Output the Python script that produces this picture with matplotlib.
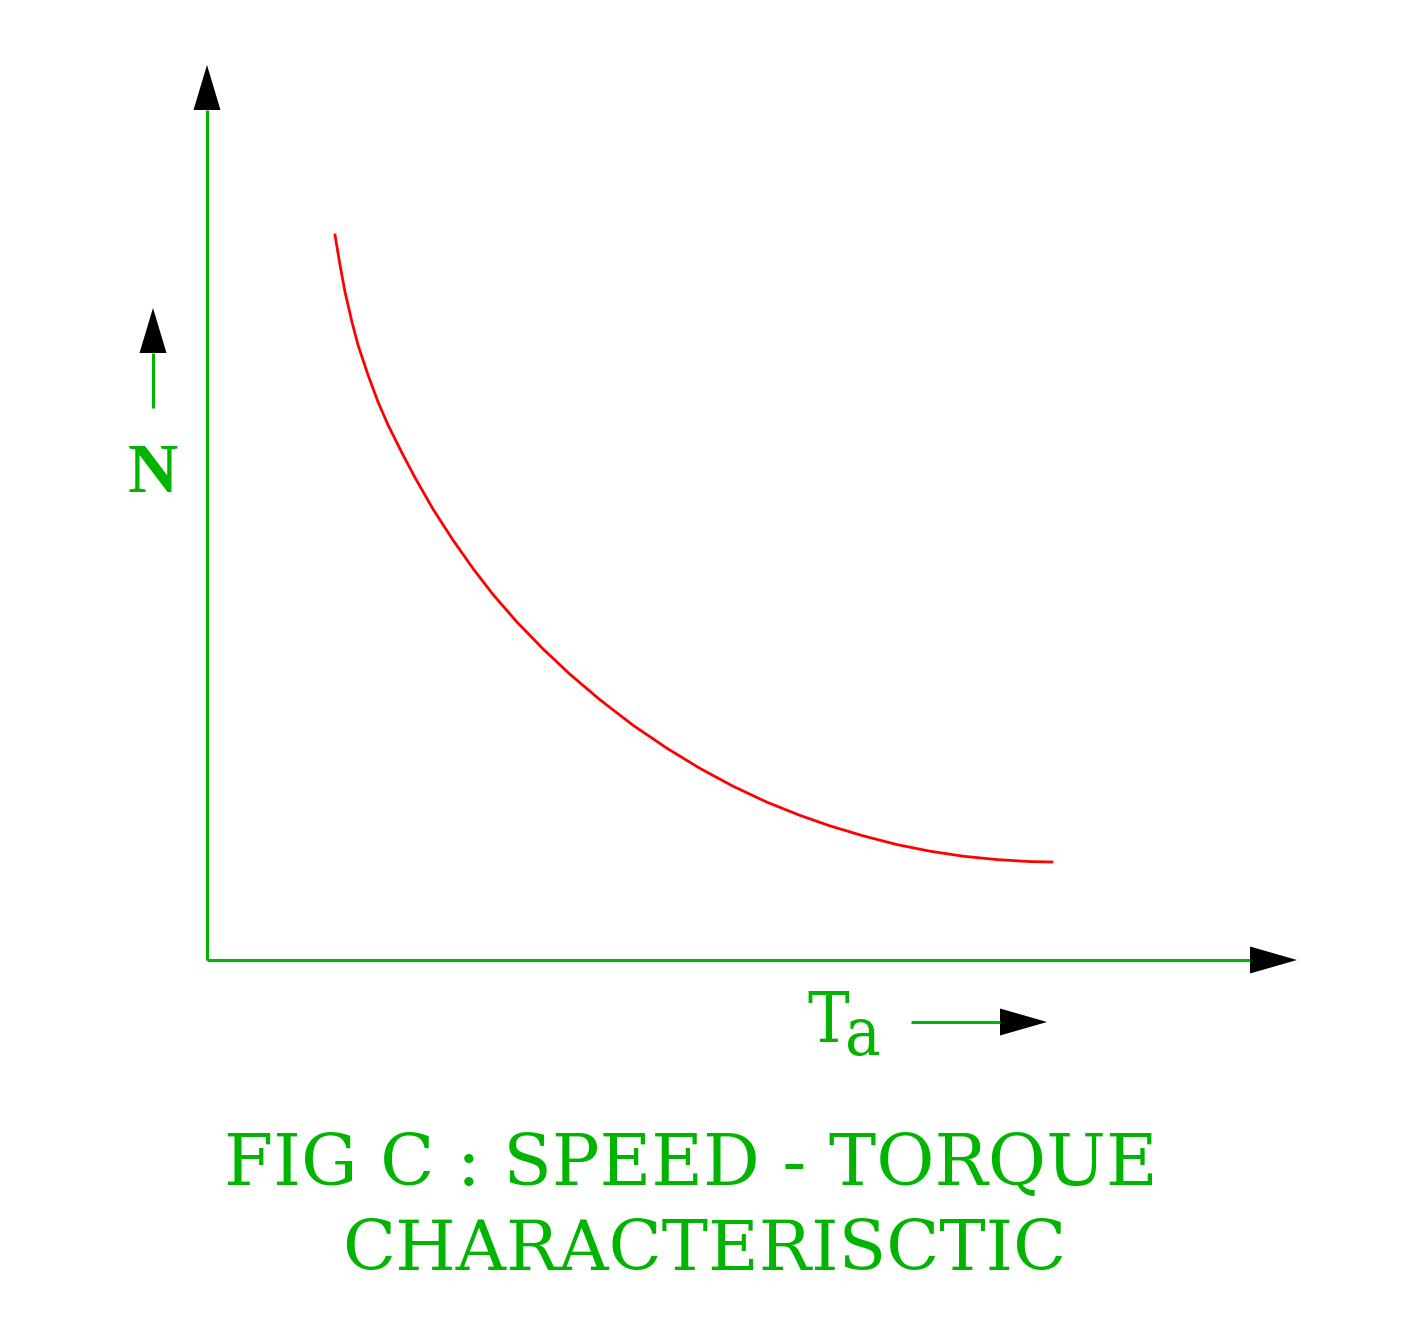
import matplotlib
matplotlib.use("Agg")
import matplotlib.pyplot as plt
import numpy as np

# Speed-torque characteristic (arbitrary units)
torque = [1.28, 1.33, 1.38, 1.45, 1.51, 1.61, 1.71, 1.81, 1.95, 2.08, 2.26, 2.46,
          2.66, 2.86, 3.10, 3.36, 3.63, 3.93, 4.26, 4.60, 4.93, 5.26, 5.60, 5.93,
          6.23, 6.56, 6.90, 7.23, 7.56, 7.90, 8.23, 8.45]
speed = [7.250, 6.950, 6.680, 6.379, 6.151, 5.851, 5.581, 5.351, 5.071, 4.824,
         4.509, 4.199, 3.915, 3.655, 3.379, 3.111, 2.857, 2.602, 2.348, 2.117,
         1.916, 1.738, 1.578, 1.446, 1.341, 1.242, 1.154, 1.088, 1.038, 1.004,
         0.984, 0.980]

title_lines = ["FIG C : SPEED - TORQUE", "CHARACTERISCTIC"]
y_label = "N"
x_label_main = "T"
x_label_sub = "a"

GREEN = "#00b400"
FONT = "DejaVu Serif"

fig = plt.figure(figsize=(14.21, 13.24), dpi=100)
ax = fig.add_axes([0, 0, 1, 1])
ax.set_xlim(-2.07, 12.14)
ax.set_ylim(-3.64, 9.60)
ax.axis("off")

lw = 2.2

def arrow(x0, y0, x1, y1, hl, hw):
    # green shaft, black triangular head
    d = np.array([x1 - x0, y1 - y0], float)
    L = np.hypot(*d)
    u = d / L
    n = np.array([-u[1], u[0]])
    base = np.array([x1, y1]) - u * hl
    ax.plot([x0, base[0]], [y0, base[1]], color=GREEN, lw=lw, solid_capstyle="butt")
    tri = [base + n * hw / 2, base - n * hw / 2, np.array([x1, y1])]
    ax.fill([p[0] for p in tri], [p[1] for p in tri], color="black", lw=0)

# main axes
arrow(0, 0, 0, 8.95, 0.45, 0.27)
arrow(0, 0, 10.90, 0, 0.47, 0.27)

# curve
ax.plot(torque, speed, color="red", lw=2.0, solid_joinstyle="round")

# N label with arrow
arrow(-0.54, 5.52, -0.54, 6.52, 0.45, 0.27)
ax.text(-0.54, 4.68, y_label, color=GREEN, fontsize=50, fontfamily="Liberation Serif",
        fontweight="bold", ha="center", va="baseline")

# T_a label with arrow
ax.text(6.21, -0.82, x_label_main, color=GREEN, fontsize=50, fontfamily=FONT,
        fontstretch="condensed", ha="center", va="baseline")
ax.text(6.56, -0.95, x_label_sub, color=GREEN, fontsize=48, fontfamily=FONT,
        fontstretch="condensed", ha="center", va="baseline")
arrow(7.04, -0.62, 8.40, -0.62, 0.47, 0.27)

# title
ax.text(4.84, -2.25, title_lines[0], color=GREEN, fontsize=51, fontfamily=FONT,
        ha="center", va="baseline")
ax.text(4.97, -3.10, title_lines[1], color=GREEN, fontsize=50, fontfamily=FONT,
        ha="center", va="baseline")

fig.savefig("out.png", dpi=100, facecolor="white")
